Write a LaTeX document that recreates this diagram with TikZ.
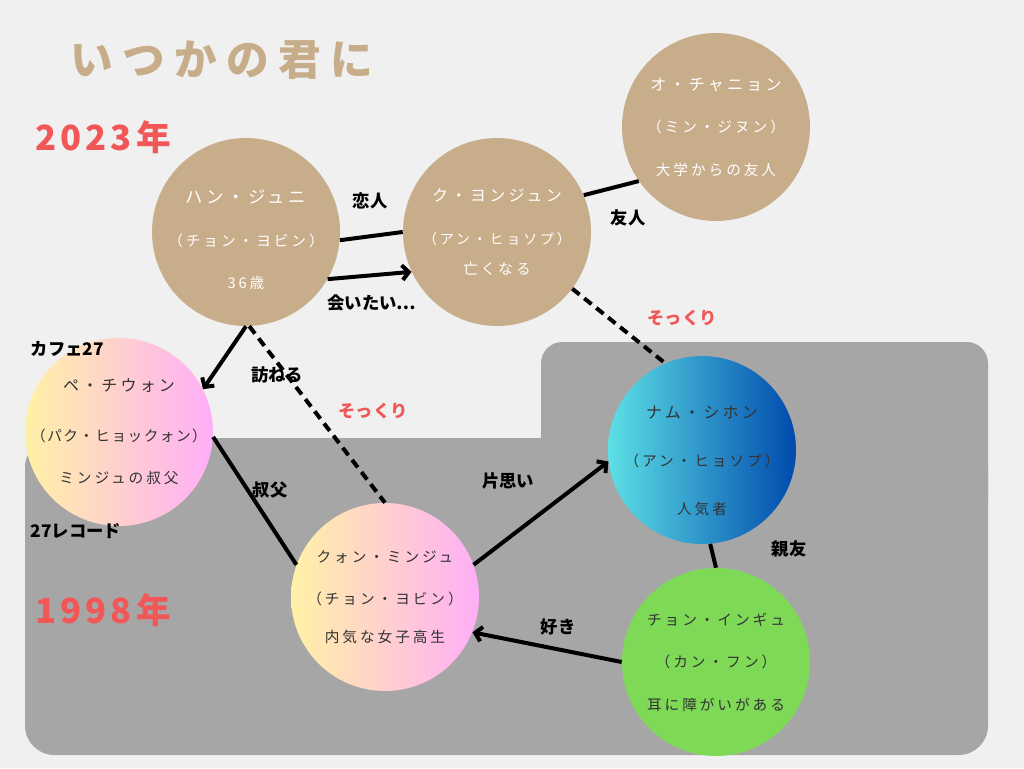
\documentclass[tikz,border=0pt]{standalone}
\usepackage{fontspec}
\setmainfont{Noto Sans CJK JP}
\newfontfamily\circfont[LetterSpace=20]{Noto Sans CJK JP}
\newfontfamily\circtight[LetterSpace=10]{Noto Sans CJK JP}
\newfontfamily\titlefont[LetterSpace=22]{Noto Sans CJK JP}
\newfontfamily\yearfont[LetterSpace=12]{Noto Sans CJK JP}
\usetikzlibrary{positioning,arrows.meta}

\definecolor{bgcol}{HTML}{F0F0F0}
\definecolor{regioncol}{HTML}{A6A6A6}
\definecolor{tancol}{HTML}{C8AD8A}
\definecolor{sokkuri}{HTML}{F25757}
\definecolor{pinkend}{HTML}{FFAEF7}
\definecolor{yellowend}{HTML}{FFF1A6}
\definecolor{cyanend}{HTML}{5DE0E6}
\definecolor{blueend}{HTML}{004AAD}
\definecolor{greenfill}{HTML}{7ED957}
\definecolor{darktext}{HTML}{333333}

\tikzset{
  person/.style={circle, minimum size=141pt, inner sep=0pt, align=center,
    font=\circfont\fontsize{11}{32}\selectfont},
  past/.style={person, fill=tancol, text=white},
  girl/.style={person, left color=yellowend, right color=pinkend, text=darktext},
  boy/.style={person, left color=cyanend, right color=blueend, text=darktext},
  friend/.style={person, fill=greenfill, text=darktext},
  rel/.style={font=\bfseries\fontsize{13}{15}\selectfont, text=black},
  same/.style={font=\bfseries\fontsize{13}{15}\selectfont, text=sokkuri},
  year/.style={font=\yearfont\bfseries\fontsize{26}{30}\selectfont, text=sokkuri},
  link/.style={line width=3pt},
  dashlink/.style={line width=3pt, dash pattern=on 7pt off 4.5pt},
  arr/.style={line width=3pt, -{Straight Barb[length=5pt,width=11pt]}},
}

\begin{document}
\begin{tikzpicture}[x=0.75pt, y=-0.75pt]
    \fill[bgcol] (0,0) rectangle (1024,768);
    \useasboundingbox (0,0) rectangle (1024,768);
    \fill[regioncol, rounded corners=22pt] (25,438) rectangle (988,755);
    \fill[regioncol, rounded corners=16pt] (541,342) rectangle (988,520);

    \node[font=\titlefont\bfseries\fontsize{32}{36}\selectfont, text=tancol] (title) at (222,60) {いつかの君に};
    \node[year] (y2023) at (103,137) {2023年};
    \node[year] (y1998) at (103,610) {1998年};

    \node[past, inner sep=-10pt] (hanjuni) at (246,232) {\fontsize{13}{32}\selectfont\rule{0pt}{22pt}ハン・ジュニ\\
        \fontsize{11}{32}\selectfont （チョン・ヨビン）\\ 36歳};
    \node[past] (koo) at (497,232) {\fontsize{12}{32}\selectfont ク・ヨンジュン\\
        \fontsize{10.5}{32}\selectfont （アン・ヒョソプ）\\[-9.5pt] 亡くなる};
    \node[past] (oh) at (716,127) {\fontsize{12}{32}\selectfont オ・チャニョン\\
        （ミン・ジヌン）\\ 大学からの友人};
    \node[girl, inner sep=-14pt] (pe) at (119,432) {\fontsize{12}{32}\selectfont ペ・チウォン\\[5pt]
        \circtight\fontsize{11}{32}\selectfont （パク・ヒョックォン）\\
        \circfont\fontsize{11}{32}\selectfont ミンジュの叔父};
    \node[girl] (kwon) at (385,597) {クォン・ミンジュ\\ （チョン・ヨビン）\\[-4pt] 内気な女子高生};
    \node[boy, inner sep=-12pt] (nam) at (702,450) {\fontsize{12}{32}\selectfont\rule{0pt}{25pt}ナム・シホン\\[4pt]
        \fontsize{11}{32}\selectfont （アン・ヒョソプ）\\[4pt] 人気者};
    \node[friend] (jeong) at (716,662) {チョン・インギュ\\ （カン・フン）\\ 耳に障がいがある};

    \node[rel] (lover) at (370,201) {恋人};
    \node[rel] (miss) at (372,303) {会いたい…};
    \node[rel] (pal) at (628,218) {友人};
    \node[same] (alike1) at (682,318) {そっくり};
    \node[same] (alike2) at (373,411) {そっくり};
    \node[rel] (visit) at (277,375) {訪ねる};
    \node[rel] (uncle) at (270,490) {叔父};
    \node[rel] (crush) at (508,481) {片思い};
    \node[rel] (bestie) at (789,549) {親友};
    \node[rel] (fond) at (558,627) {好き};
    \node[rel, anchor=west] (cafe) at (26,349) {カフェ27};
    \node[rel, anchor=west] (record) at (26,531) {27レコード};

    % relations
    \draw[link] (hanjuni.-5) -- (koo.180);
    \draw[arr] (hanjuni.-30) -- (koo.205);
    \draw[link] (koo.23) -- (oh.215);
    \draw[dashlink] (koo.-37) -- (nam.113);
    \draw[arr] (hanjuni.south) -- (pe.27);
    \draw[dashlink] (hanjuni.-88) -- (kwon.north);
    \draw[link] (pe.-3) -- (kwon.160);
    \draw[arr] (kwon.20) -- (nam.187);
    \draw[link] (nam.-85) -- (jeong.north);
    \draw[arr] (jeong.west) -- (kwon.-22);
\end{tikzpicture}
\end{document}
